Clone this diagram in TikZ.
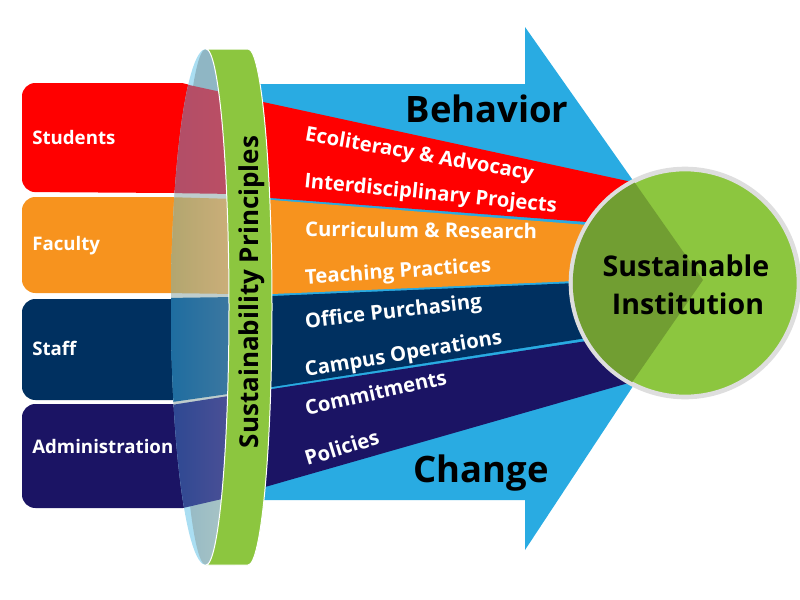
\documentclass[tikz,border=0pt]{standalone}
\usepackage{fontspec}
\setmainfont{Open Sans}
\usepackage{xcolor}

\definecolor{arrowblue}{RGB}{41,171,226}
\definecolor{bandred}{RGB}{255,0,0}
\definecolor{bandorange}{RGB}{247,147,30}
\definecolor{bandnavy}{RGB}{0,48,96}
\definecolor{bandpurple}{RGB}{27,20,100}
\definecolor{hoopgreen}{RGB}{140,198,63}
\definecolor{tipgreen}{RGB}{113,158,50}
\definecolor{ringgrey}{RGB}{222,222,222}
\definecolor{lensblue}{RGB}{170,222,242}
\definecolor{capgrey}{RGB}{143,182,196}
\definecolor{caplight}{RGB}{172,198,198}
\definecolor{gapgrey}{RGB}{190,205,205}

\tikzset{
  boxlabel/.style={anchor=west,inner sep=0.75pt,text=white,font=\bfseries\fontsize{14}{17}\selectfont},
  bandlabel/.style={anchor=west,inner sep=0.75pt,text=white,font=\bfseries\fontsize{15.2}{18}\selectfont},
  biglabel/.style={inner sep=0.75pt,font=\bfseries\fontsize{27.3}{32}\selectfont},
  goallabel/.style={inner sep=0.75pt,font=\bfseries\fontsize{21.4}{26}\selectfont},
}

\begin{document}
\begin{tikzpicture}[x=0.75pt,y=0.75pt,yscale=-1,xscale=1]
\path[use as bounding box] (0,0) rectangle (800,600);

%Shape: Big Arrow
\fill [arrowblue] (255,84) -- (525,84) -- (525,27) -- (703,280) -- (525,550) -- (525,500) -- (255,500) -- cycle ;

%Shape: Band Students
\fill [bandred] (240,97) -- (632,182) -- (600,223) -- (270,198) -- (228,195) -- (175,193) [rounded corners=10] -- (22,192) -- (22,83) [sharp corners] -- (182,83) -- cycle ;
%Shape: Band Faculty
\fill [bandorange] (228,197) -- (272,200) -- (600,226) -- (600,280) -- (272,294) -- (228,294) -- (175,293) [rounded corners=10] -- (22,293) -- (22,197) [sharp corners] -- (175,197) -- cycle ;
%Shape: Band Staff
\fill [bandnavy] (228,297) -- (272,296) -- (600,282) -- (600,336) -- (272,387) -- (228,394) -- (180,400) [rounded corners=10] -- (22,400) -- (22,299) [sharp corners] -- (175,299) -- cycle ;
%Shape: Band Administration
\fill [bandpurple] (228,396) -- (272,389) -- (600,339) -- (632,382) -- (265,487) -- (221,498) -- (183,508) [rounded corners=10] -- (22,508) -- (22,404) [sharp corners] -- (180,404) -- cycle ;

%Shape: Lens
\fill [lensblue] (206,49) arc [start angle=-90,end angle=-270,x radius=35,y radius=258] -- cycle ;
\begin{scope}
\clip (206,49) arc [start angle=-90,end angle=-270,x radius=25,y radius=258] -- (235,565) -- (235,49) -- cycle ;
\fill [capgrey] (170,45) rectangle (235,95) ;
\shade [left color=capgrey,right color=caplight] (170,495) rectangle (235,570) ;
\end{scope}
\begin{scope}
\clip (206,49) arc [start angle=-90,end angle=-270,x radius=35,y radius=258] -- (235,565) -- (235,49) -- cycle ;
\fill [gapgrey] (165,190) rectangle (235,200) (165,290) rectangle (235,302) ;
\fill [gapgrey] (165,400) -- (235,390) -- (235,398) -- (165,408) -- cycle ;
\shade [left color={rgb,255:red,176;green,78;blue,104},middle color={rgb,255:red,230;green,96;blue,112},right color={rgb,255:red,188;green,78;blue,100}] (165,84) -- (189,85) -- (235,95) -- (235,194) -- (165,193) -- cycle ;
\shade [left color={rgb,255:red,176;green,165;blue,110},middle color={rgb,255:red,228;green,185;blue,125},right color={rgb,255:red,205;green,175;blue,122}] (165,197) -- (235,199) -- (235,294) -- (165,293) -- cycle ;
\shade [left color={rgb,255:red,28;green,108;blue,160},middle color={rgb,255:red,88;green,136;blue,160},right color={rgb,255:red,62;green,120;blue,160}] (165,298) -- (235,297) -- (235,393) -- (165,403) -- cycle ;
\shade [left color={rgb,255:red,42;green,72;blue,146},middle color={rgb,255:red,112;green,106;blue,160},right color={rgb,255:red,78;green,80;blue,150}] (165,406) -- (235,395) -- (235,496) -- (183,508) -- (165,513) -- cycle ;
\end{scope}

%Shape: Green Hoop
\fill [hoopgreen,draw=white,line width=0.75] (206,49) arc [start angle=-90,end angle=90,x radius=23,y radius=258] -- (248,565) arc [start angle=90,end angle=-90,x radius=24,y radius=258] -- cycle ;

%Shape: Circle
\fill [hoopgreen,draw=ringgrey,line width=3.5] (685,283) circle [radius=114] ;
\begin{scope}
\clip (685,283) circle [radius=112.2] ;
\fill [tipgreen] (560,100) -- (635,183) -- (703,280) -- (633,381) -- (560,460) -- cycle ;
\end{scope}

% Text Node
\draw (31,137) node [boxlabel] (students) {Students};
% Text Node
\draw (31,246) node [boxlabel] (faculty) {Faculty};
% Text Node
\draw (31,348) node [boxlabel] (staff) {Staff};
% Text Node
\draw (31,446) node [boxlabel] (administration) {Administration};
% Text Node
\draw (304,135) node [bandlabel,rotate=-10] (ecoliteracy) {Ecoliteracy \& Advocacy};
% Text Node
\draw (303,182) node [bandlabel,rotate=-5.6] (interdisciplinary) {Interdisciplinary Projects};
% Text Node
\draw (304,229) node [bandlabel,rotate=-0.5] (curriculum) {Curriculum \& Research};
% Text Node
\draw (304,279) node [bandlabel,rotate=3.8] (teaching) {Teaching Practices};
% Text Node
\draw (304,323) node [bandlabel,rotate=6.5] (purchasing) {Office Purchasing};
% Text Node
\draw (304,372) node [bandlabel,rotate=9.6] (operations) {Campus Operations};
% Text Node
\draw (304,408) node [bandlabel,rotate=12.5] (commitments) {Commitments};
% Text Node
\draw (304,459) node [bandlabel,rotate=17] (policies) {Policies};
% Text Node
\draw (487,109) node [biglabel] (behavior) {Behavior};
% Text Node
\draw (481,473) node [biglabel] (change) {Change};
% Text Node
\draw (252,292) node [goallabel,rotate=90,font=\bfseries\fontsize{19.5}{23}\selectfont] (principles) {Sustainability Principles};
% Text Node
\draw (686,266) node [goallabel] (sustainable) {Sustainable};
% Text Node
\draw (688,304) node [goallabel] (institution) {Institution};

\end{tikzpicture}
\end{document}
